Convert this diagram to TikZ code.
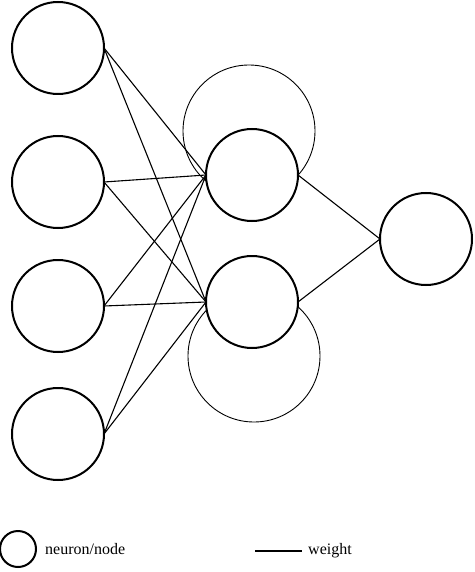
\documentclass[tikz,border=0pt]{standalone}
\usepackage{fontspec}
\setmainfont{Liberation Serif}
\usetikzlibrary{positioning}
\begin{document}
\begin{tikzpicture}[x=1pt,y=-1pt,
		neuron/.style={circle, draw, line width=2pt, fill=white, minimum size=92pt, inner sep=0pt, outer sep=0pt},
		weight/.style={line width=1.1pt},
		recur/.style={line width=0.9pt},
		legend/.style={font=\fontsize{16}{18}\selectfont, inner sep=0pt}
		]
		\useasboundingbox (0,0) rectangle (474,572);
	
		% Boucles recurrentes
		\draw[recur] (249,131) circle[radius=66pt];
		\draw[recur] (254,356) circle[radius=66pt];
	
		% Couche d'entree
		\node[neuron] (I1) at (58,48) {};
		\node[neuron] (I2) at (58,182) {};
		\node[neuron] (I3) at (58,306) {};
		\node[neuron] (I4) at (58,434) {};
	
		% Couche cachee et sortie
		\node[neuron] (H1) at (252,175) {};
		\node[neuron] (H2) at (252,302) {};
		\node[neuron] (O) at (426,239) {};
	
		\foreach \i in {1,...,4}{
			\draw[weight] (I\i.east) -- (H1.west);
			\draw[weight] (I\i.east) -- (H2.west);
		}
		\draw[weight] (H1.east) -- (O.west);
		\draw[weight] (H2.east) -- (O.west);
	
		% Legende
		\node[neuron, minimum size=36pt] (N) at (18,549) {};
		\node[legend, right=9pt of N] (Ntext) {neuron/node};
		\coordinate (W1) at (255,551);
		\coordinate (W2) at (302,551);
		\draw[weight] (W1) -- (W2);
		\node[legend, right=6pt of W2] (Wtext) {weight};
	\end{tikzpicture}
\end{document}
